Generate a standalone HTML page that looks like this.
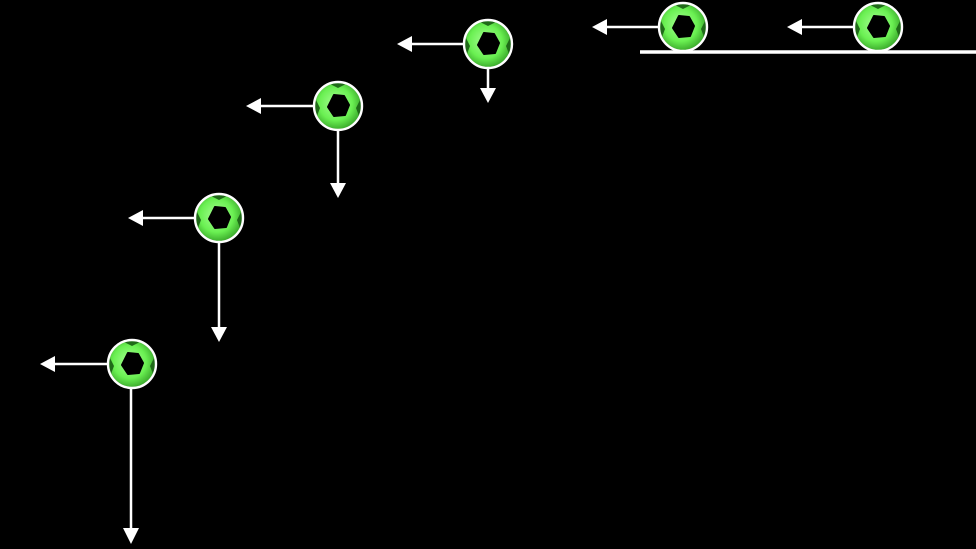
<!DOCTYPE html>
<html><head><meta charset="utf-8"><style>
html,body{margin:0;padding:0;background:#000;}
svg{display:block;}
</style></head><body>
<svg width="976" height="549" viewBox="0 0 976 549" xmlns="http://www.w3.org/2000/svg">
<defs>
<radialGradient id="g" cx="45%" cy="45%" r="60%">
<stop offset="0" stop-color="#a8ff95"/>
<stop offset="0.6" stop-color="#6af052"/>
<stop offset="1" stop-color="#34a026"/>
</radialGradient>
<g id="ball">
<circle r="23" fill="url(#g)"/>
<path d="M-8,-22 L0,-18 L8,-22 A23,23 0 0 0 -8,-22Z" fill="#1f6a18"/>
<path d="M-22,-6 L-18,2 L-21,10 A23,23 0 0 1 -22,-6Z" fill="#1f6a18"/>
<path d="M22,-6 L18,2 L21,10 A23,23 0 0 0 22,-6Z" fill="#1f6a18"/>
<polygon points="-4,-11 6,-10 11,-1 7,9 -4,10 -10,1" fill="#000" stroke="#000" stroke-width="2" stroke-linejoin="round"/>
<circle r="24" fill="none" stroke="#fff" stroke-width="2.4"/>
</g>
</defs>
<rect width="976" height="549" fill="#000"/>
<line x1="640" y1="52" x2="976" y2="52" stroke="#fff" stroke-width="3.5"/>
<g stroke="#fff" stroke-width="2.5" fill="none">
<line x1="659" y1="27" x2="600" y2="27"/>
<line x1="854" y1="27" x2="795" y2="27"/>
<line x1="464" y1="44" x2="405" y2="44"/>
<line x1="488" y1="68" x2="488" y2="92"/>
<line x1="314" y1="106" x2="255" y2="106"/>
<line x1="338" y1="130" x2="338" y2="186"/>
<line x1="195" y1="218" x2="136" y2="218"/>
<line x1="219" y1="242" x2="219" y2="330"/>
<line x1="108" y1="364" x2="49" y2="364"/>
<line x1="131" y1="388" x2="131" y2="532"/>
</g>
<g fill="#fff">
<polygon points="592,27 607,19 607,35"/>
<polygon points="787,27 802,19 802,35"/>
<polygon points="397,44 412,36 412,52"/>
<polygon points="488,103 480,88 496,88"/>
<polygon points="246,106 261,98 261,114"/>
<polygon points="338,198 330,183 346,183"/>
<polygon points="128,218 143,210 143,226"/>
<polygon points="219,342 211,327 227,327"/>
<polygon points="40,364 55,356 55,372"/>
<polygon points="131,544 123,528 139,528"/>
</g>
<use href="#ball" x="683" y="27"/>
<use href="#ball" x="878" y="27"/>
<use href="#ball" x="488" y="44"/>
<use href="#ball" x="338" y="106"/>
<use href="#ball" x="219" y="218"/>
<use href="#ball" x="132" y="364"/>
</svg>
</body></html>
